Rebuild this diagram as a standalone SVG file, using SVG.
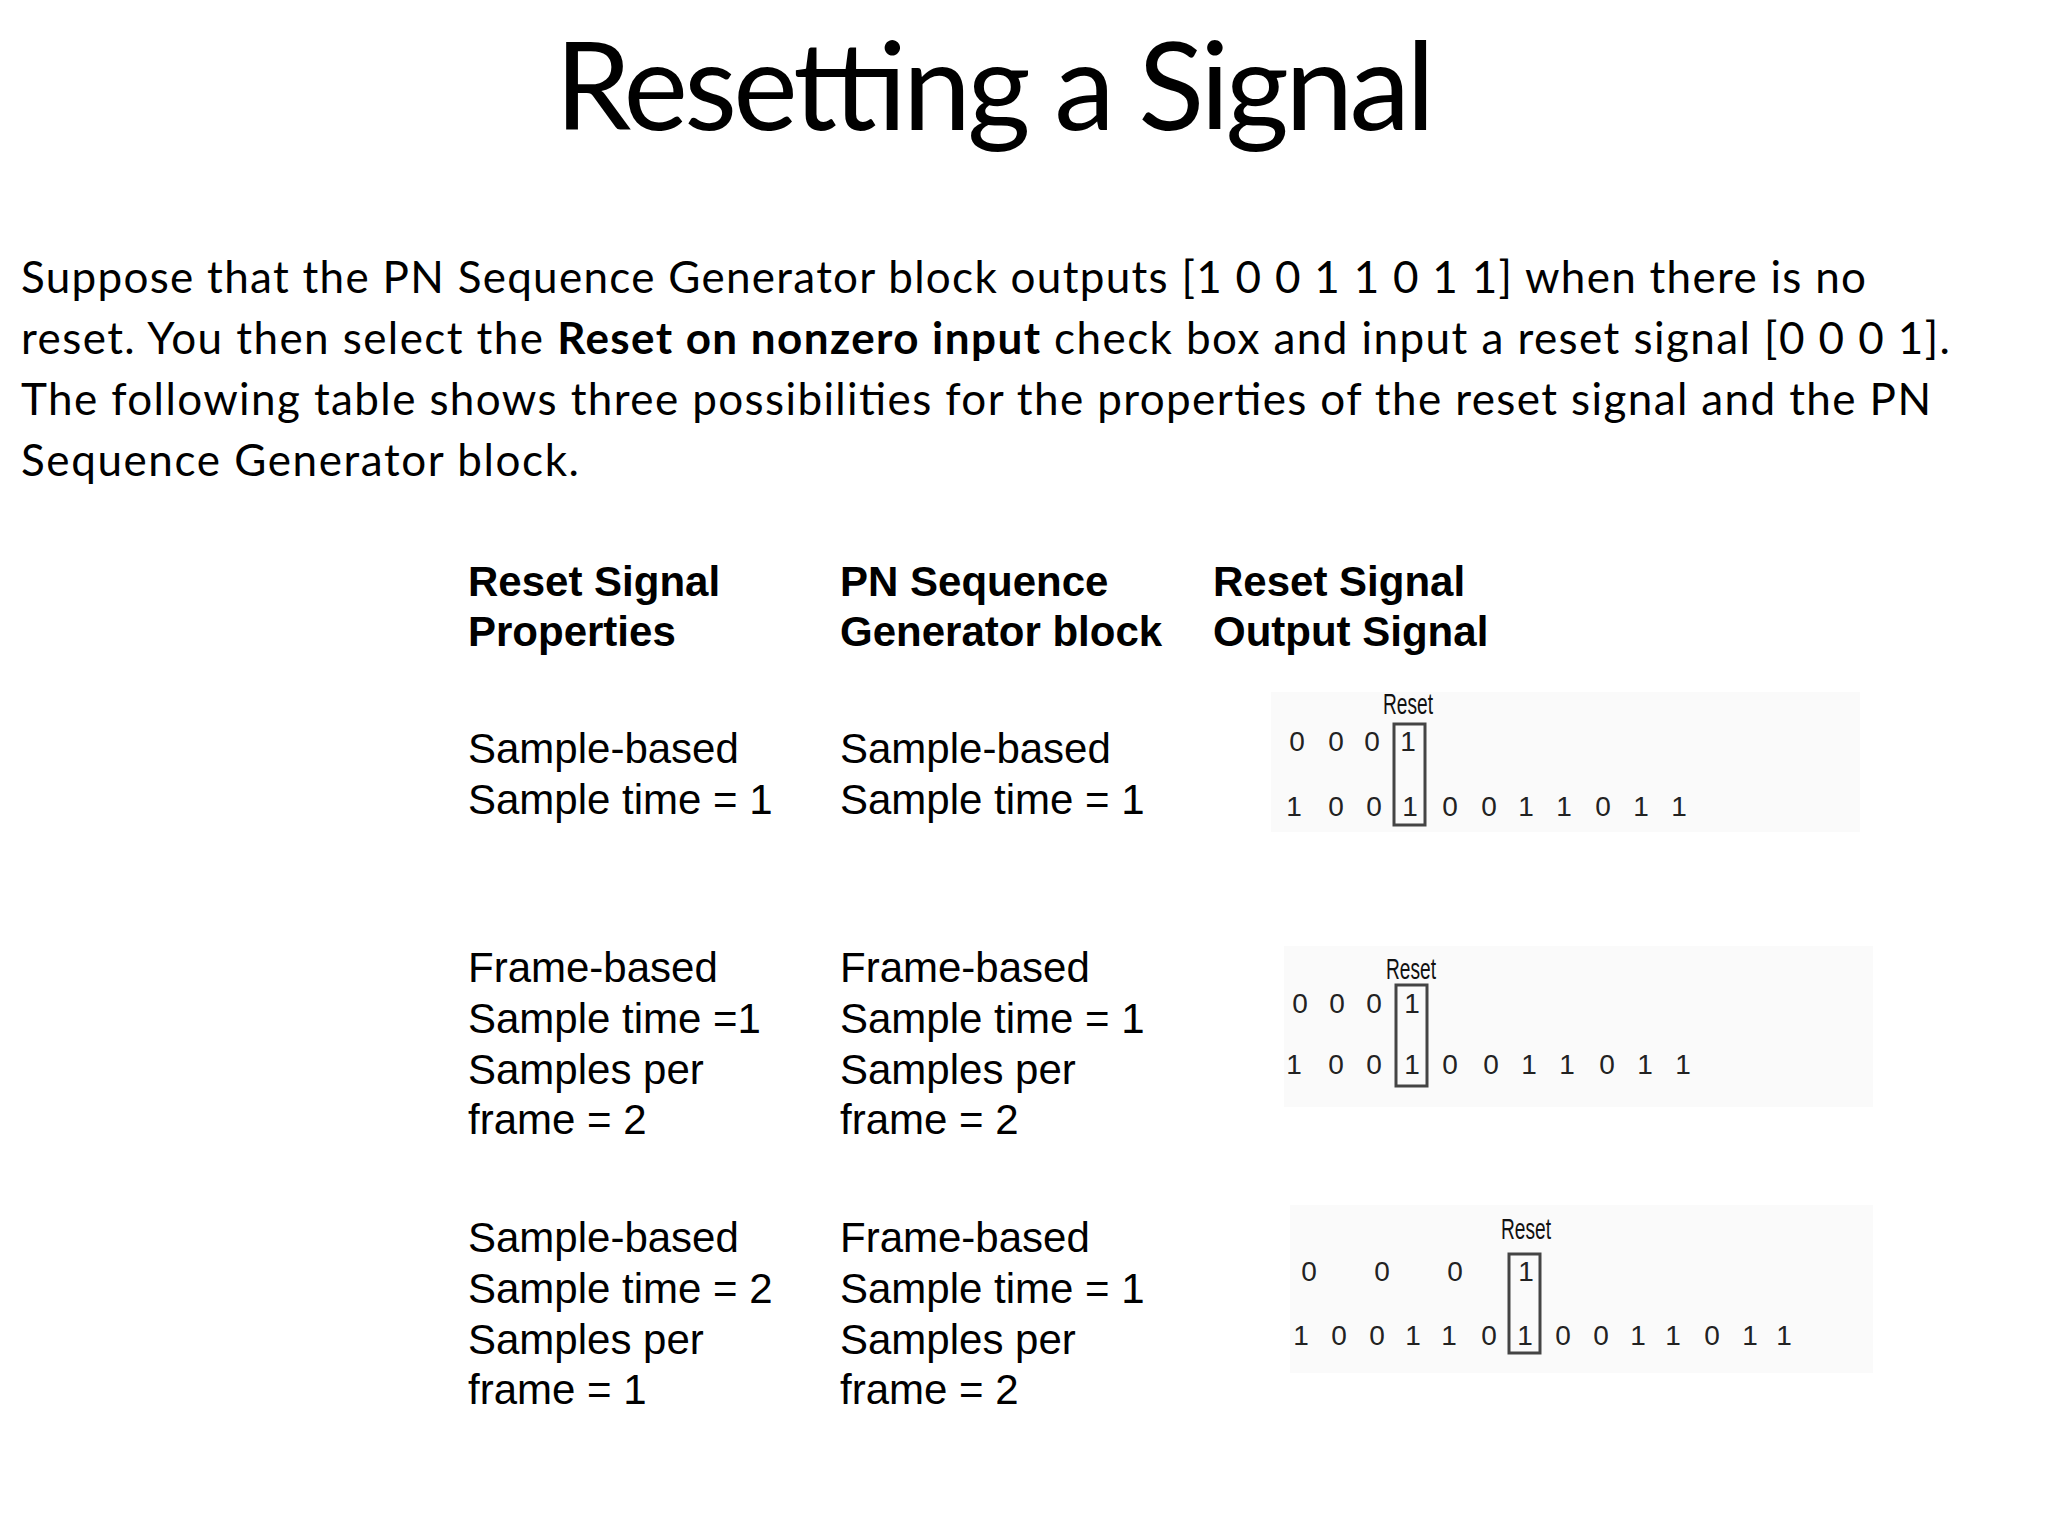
<svg xmlns="http://www.w3.org/2000/svg" width="2048" height="1536" viewBox="0 0 2048 1536">
<style>
.t{font-family:Lato,"Open Sans",sans-serif;fill:#000}
.h{font-family:"Liberation Sans",Arial,sans-serif;font-weight:bold;font-size:42px;fill:#000}
.c{font-family:"Liberation Sans",Arial,sans-serif;font-size:42px;fill:#000}
.d{font-family:"Liberation Sans",Arial,sans-serif;font-size:28px;fill:#222;text-anchor:middle}
.r{font-family:"Liberation Sans",Arial,sans-serif;font-size:30px;fill:#111;text-anchor:middle}
.bx{fill:none;stroke:#444;stroke-width:3}
.bg{fill:#fafafa}
</style>
<rect width="2048" height="1536" fill="#fff"/>
<text class="t" x="995" y="130" font-size="122" text-anchor="middle" textLength="880">Resetting a Signal</text>
<g class="t" font-size="44">
<text x="21" y="293" textLength="1845">Suppose that the PN Sequence Generator block outputs [1 0 0 1 1 0 1 1] when there is no</text>
<text x="21" y="354" textLength="1929">reset. You then select the <tspan font-weight="bold">Reset on nonzero input</tspan> check box and input a reset signal [0 0 0 1].</text>
<text x="21" y="415" textLength="1910">The following table shows three possibilities for the properties of the reset signal and the PN</text>
<text x="21" y="476" textLength="558">Sequence Generator block.</text>
</g>
<g id="headers" class="h">
<text x="468" y="596">Reset Signal</text><text x="468" y="646">Properties</text>
<text x="840" y="596">PN Sequence</text><text x="840" y="646">Generator block</text>
<text x="1213" y="596">Reset Signal</text><text x="1213" y="646">Output Signal</text>
</g>
<g id="row1" class="c">
<text x="468" y="763">Sample-based</text><text x="468" y="814">Sample time = 1</text>
<text x="840" y="763">Sample-based</text><text x="840" y="814">Sample time = 1</text>
</g>
<g id="row2" class="c">
<text x="468" y="982">Frame-based</text><text x="468" y="1033">Sample time =1</text><text x="468" y="1084">Samples per</text><text x="468" y="1134">frame = 2</text>
<text x="840" y="982">Frame-based</text><text x="840" y="1033">Sample time = 1</text><text x="840" y="1084">Samples per</text><text x="840" y="1134">frame = 2</text>
</g>
<g id="row3" class="c">
<text x="468" y="1252">Sample-based</text><text x="468" y="1303">Sample time = 2</text><text x="468" y="1354">Samples per</text><text x="468" y="1404">frame = 1</text>
<text x="840" y="1252">Frame-based</text><text x="840" y="1303">Sample time = 1</text><text x="840" y="1354">Samples per</text><text x="840" y="1404">frame = 2</text>
</g>
<g id="signal1">
<rect class="bg" x="1271" y="692" width="589" height="140"/>
<text class="r" x="1408" y="714" textLength="50" lengthAdjust="spacingAndGlyphs">Reset</text>
<g class="d">
<text x="1297" y="751">0</text><text x="1336" y="751">0</text><text x="1372" y="751">0</text><text x="1408" y="751">1</text>
<text x="1294" y="816">1</text><text x="1336" y="816">0</text><text x="1374" y="816">0</text><text x="1410" y="816">1</text><text x="1450" y="816">0</text><text x="1489" y="816">0</text><text x="1526" y="816">1</text><text x="1564" y="816">1</text><text x="1603" y="816">0</text><text x="1641" y="816">1</text><text x="1679" y="816">1</text>
</g>
<rect class="bx" x="1394" y="724" width="31" height="101"/>
</g>
<g id="signal2">
<rect class="bg" x="1284" y="946" width="589" height="161"/>
<text class="r" x="1411" y="979" textLength="50" lengthAdjust="spacingAndGlyphs">Reset</text>
<g class="d">
<text x="1300" y="1013">0</text><text x="1337" y="1013">0</text><text x="1374" y="1013">0</text><text x="1412" y="1013">1</text>
<text x="1294" y="1074">1</text><text x="1336" y="1074">0</text><text x="1374" y="1074">0</text><text x="1412" y="1074">1</text><text x="1450" y="1074">0</text><text x="1491" y="1074">0</text><text x="1529" y="1074">1</text><text x="1567" y="1074">1</text><text x="1607" y="1074">0</text><text x="1645" y="1074">1</text><text x="1683" y="1074">1</text>
</g>
<rect class="bx" x="1396" y="985" width="31" height="101"/>
</g>
<g id="signal3">
<rect class="bg" x="1290" y="1205" width="583" height="168"/>
<text class="r" x="1526" y="1239" textLength="50" lengthAdjust="spacingAndGlyphs">Reset</text>
<g class="d">
<text x="1309" y="1281">0</text><text x="1382" y="1281">0</text><text x="1455" y="1281">0</text><text x="1526" y="1281">1</text>
<text x="1301" y="1345">1</text><text x="1339" y="1345">0</text><text x="1377" y="1345">0</text><text x="1413" y="1345">1</text><text x="1449" y="1345">1</text><text x="1489" y="1345">0</text><text x="1525" y="1345">1</text><text x="1563" y="1345">0</text><text x="1601" y="1345">0</text><text x="1638" y="1345">1</text><text x="1673" y="1345">1</text><text x="1712" y="1345">0</text><text x="1750" y="1345">1</text><text x="1784" y="1345">1</text>
</g>
<rect class="bx" x="1509" y="1254" width="31" height="99"/>
</g>
</svg>
